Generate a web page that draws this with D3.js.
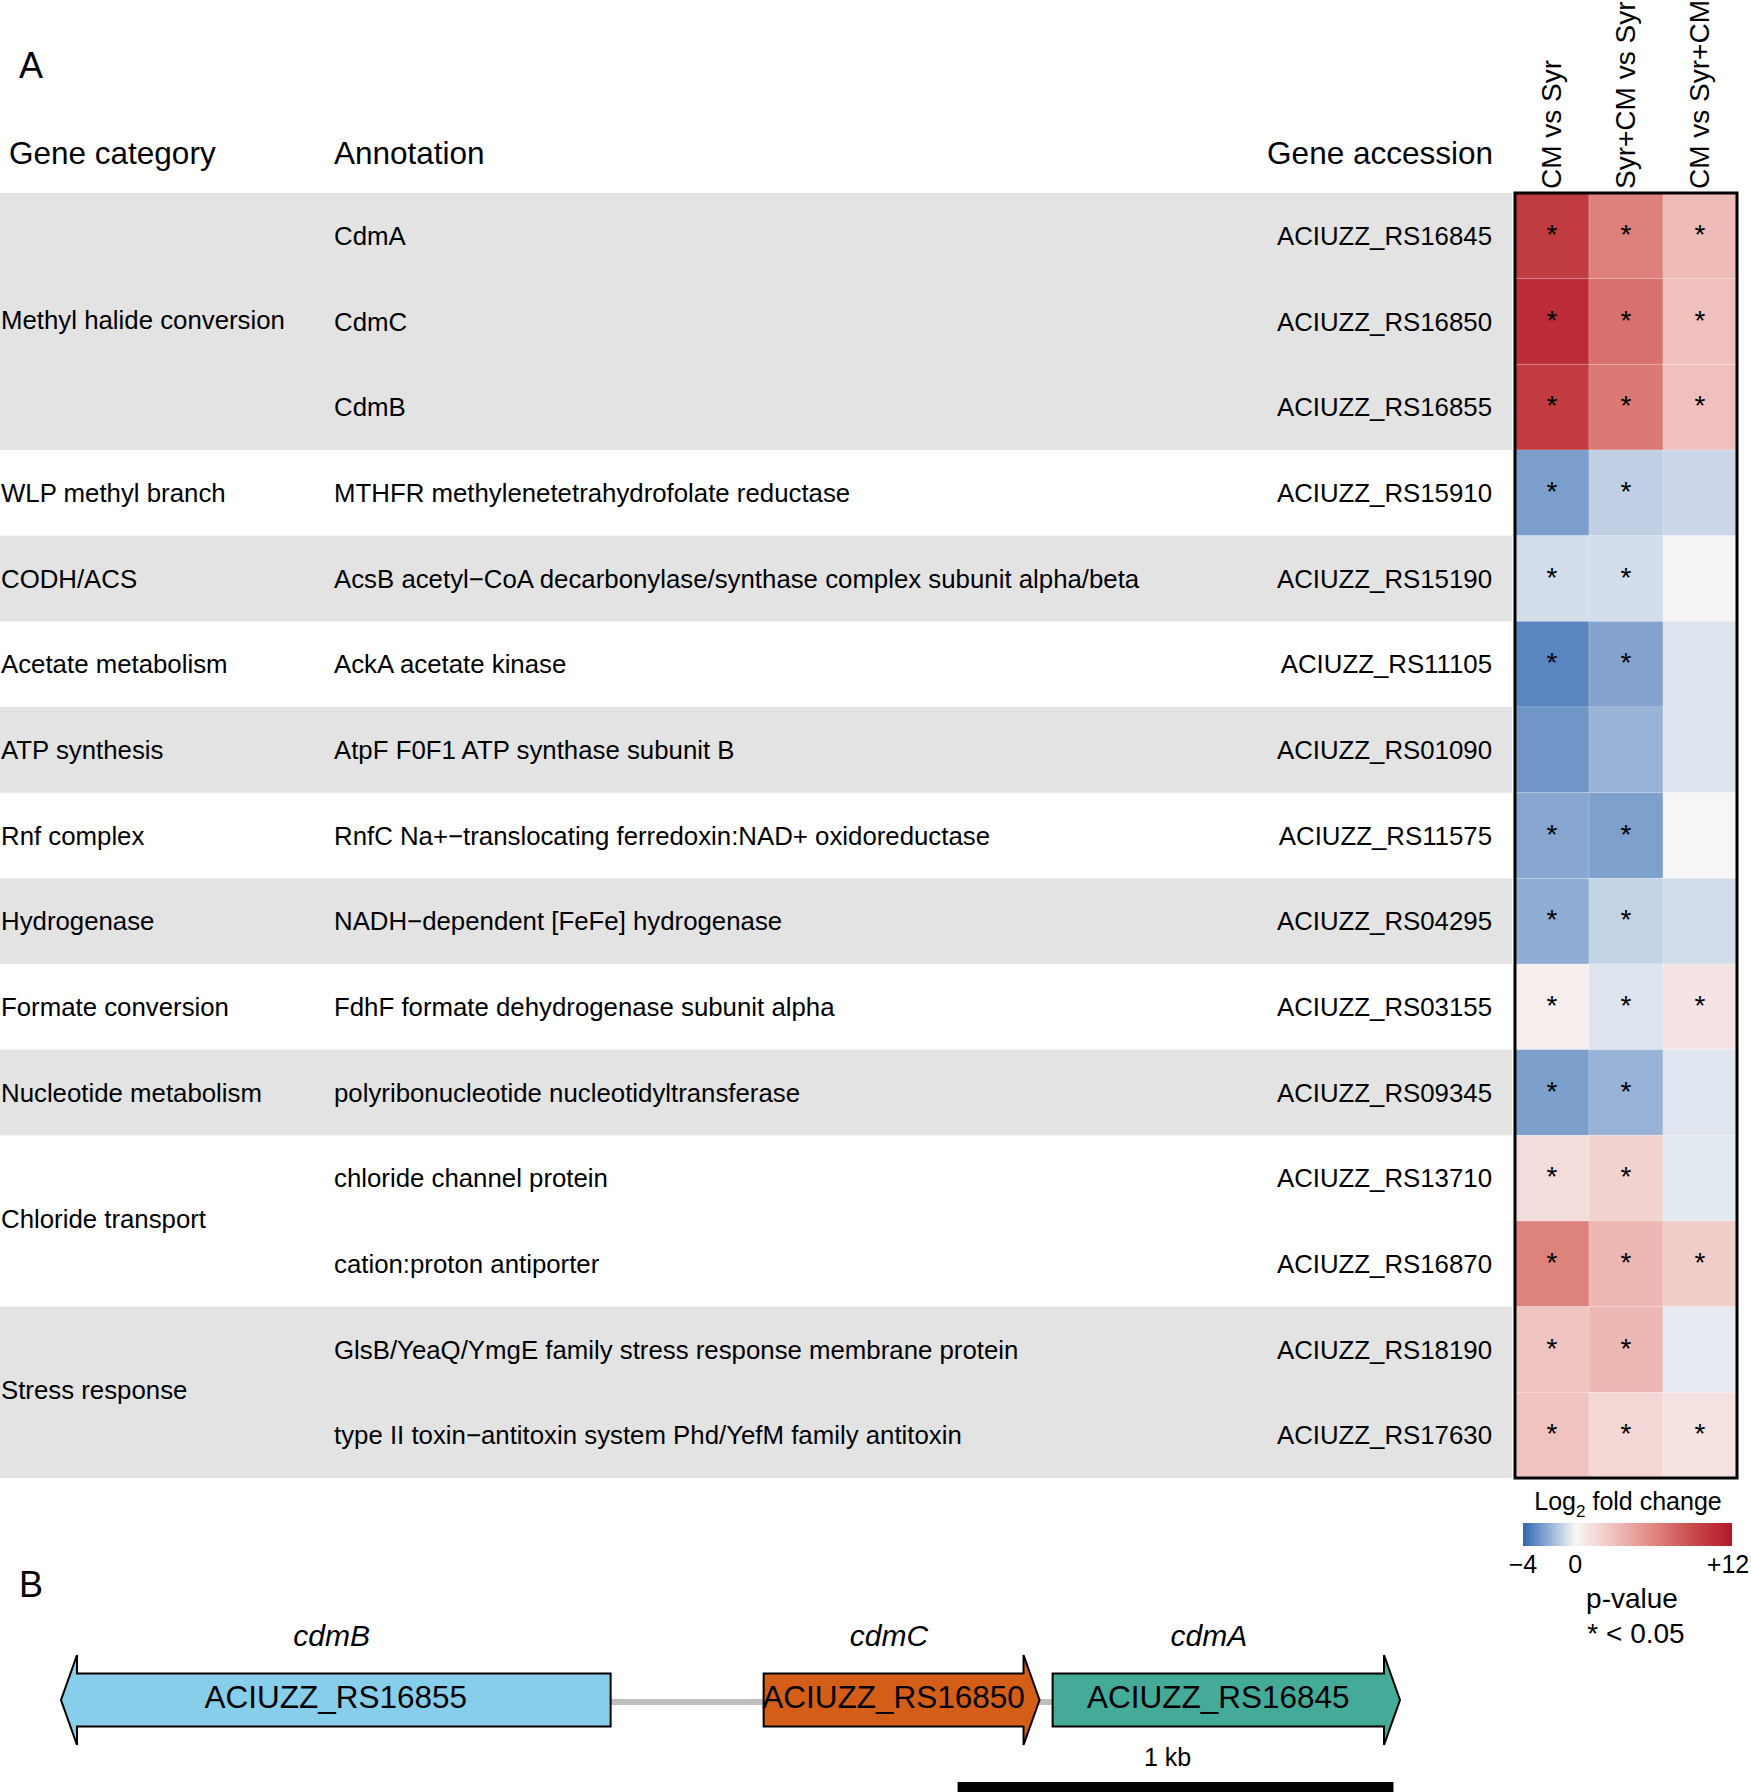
<!DOCTYPE html>
<html>
<head>
<meta charset="utf-8">
<script src="https://cdn.jsdelivr.net/npm/d3@7"></script>
<style>
  html, body { margin: 0; padding: 0; background: #fff; }
  svg text { font-family: "Liberation Sans", Arial, Helvetica, sans-serif; fill: #000; }
</style>
</head>
<body>
<svg id="chart" width="1751" height="1792"></svg>
<script>
// ---------------- DATA ----------------
const categories = ["Methyl halide conversion","WLP methyl branch","CODH/ACS","Acetate metabolism",
  "ATP synthesis","Rnf complex","Hydrogenase","Formate conversion","Nucleotide metabolism",
  "Chloride transport","Stress response"];
const categorySizes = [3,1,1,1,1,1,1,1,1,2,2];

const annotations = ["CdmA","CdmC","CdmB",
  "MTHFR methylenetetrahydrofolate reductase",
  "AcsB acetyl\u2212CoA decarbonylase/synthase complex subunit alpha/beta",
  "AckA acetate kinase",
  "AtpF F0F1 ATP synthase subunit B",
  "RnfC Na+\u2212translocating ferredoxin:NAD+ oxidoreductase",
  "NADH\u2212dependent [FeFe] hydrogenase",
  "FdhF formate dehydrogenase subunit alpha",
  "polyribonucleotide nucleotidyltransferase",
  "chloride channel protein",
  "cation:proton antiporter",
  "GlsB/YeaQ/YmgE family stress response membrane protein",
  "type II toxin\u2212antitoxin system Phd/YefM family antitoxin"];
const accessions = ["ACIUZZ_RS16845","ACIUZZ_RS16850","ACIUZZ_RS16855","ACIUZZ_RS15910",
  "ACIUZZ_RS15190","ACIUZZ_RS11105","ACIUZZ_RS01090","ACIUZZ_RS11575","ACIUZZ_RS04295",
  "ACIUZZ_RS03155","ACIUZZ_RS09345","ACIUZZ_RS13710","ACIUZZ_RS16870","ACIUZZ_RS18190",
  "ACIUZZ_RS17630"];

const comparisons = ["CM vs Syr","Syr+CM vs Syr","CM vs Syr+CM"];
const lfcCMvsSyr    = [9.9, 10.8, 9.95, -2.48, -0.72, -3.16, -2.7, -2.22, -2.06, 0.43, -2.44, 1.45, 6.2, 2.7, 2.8];
const lfcSyrCMvsSyr = [6.24, 7.05, 6.6, -1.1, -0.7, -2.32, -1.9, -2.42, -1.04, -0.52, -1.88, 1.94, 3.4, 3.4, 1.72];
const lfcCMvsSyrCM  = [3.2, 2.96, 2.96, -0.88, -0.05, -0.52, -0.52, 0.05, -0.72, 0.97, -0.46, -0.4, 2.26, -0.34, 1.08];
const sigCMvsSyr    = [1,1,1,1,1,1,0,1,1,1,1,1,1,1,1];
const sigSyrCMvsSyr = [1,1,1,1,1,1,0,1,1,1,1,1,1,1,1];
const sigCMvsSyrCM  = [1,1,1,0,0,0,0,0,0,1,0,0,1,0,1];

const legendTicks = [-4, 0, 12];
const legendTickLabels = ["\u22124", "0", "+12"];

// Gene cluster (bp, relative)
const geneNames  = ["cdmB","cdmC","cdmA"];
const geneIds    = ["ACIUZZ_RS16855","ACIUZZ_RS16850","ACIUZZ_RS16845"];
const geneStart  = [0, 1612, 2275];
const geneEnd    = [1261, 2245, 3072];
const geneStrand = [-1, 1, 1];
const regionExtent = [0, 3072];
const scaleBar = [2057, 3057]; // 1 kb
const scaleBarLabel = "1 kb";

// ---------------- DRAW ----------------
const svg = d3.select("#chart");
const FONT_ROW = 25.8, FONT_HEAD = 31.5;

const nRows = annotations.length;
const y = d3.scaleBand().domain(d3.range(nRows)).range([193, 1478]);
const x = d3.scaleBand().domain(comparisons).range([1515, 1737]);
const color = d3.scaleLinear()
  .domain([-4, 0, 3, 6, 9, 12])
  .range(["#2f67b1", "#f7f7f7", "#efbfbb", "#e08680", "#c84b4b", "#b2182b"]);

const lfc = [lfcCMvsSyr, lfcSyrCMvsSyr, lfcCMvsSyrCM];
const sig = [sigCMvsSyr, sigSyrCMvsSyr, sigCMvsSyrCM];

// panel label
svg.append("text").attr("x", 19).attr("y", 78).attr("font-size", 36).text("A");

// category bands
let start = 0;
const catRows = categories.map((c, i) => {
  const r = {name: c, start: start, size: categorySizes[i], idx: i};
  start += categorySizes[i];
  return r;
});
svg.append("g").selectAll("rect").data(catRows.filter(d => d.idx % 2 === 0)).join("rect")
  .attr("x", 0).attr("width", 1512)
  .attr("y", d => y(d.start)).attr("height", d => y.bandwidth() * d.size)
  .attr("fill", "#e3e3e3");

// headers
const hdr = svg.append("g").attr("font-size", FONT_HEAD);
hdr.append("text").attr("x", 9).attr("y", 164).text("Gene category");
hdr.append("text").attr("x", 334).attr("y", 164).text("Annotation");
hdr.append("text").attr("x", 1493).attr("y", 164).attr("text-anchor", "end").text("Gene accession");

// category labels
svg.append("g").selectAll("text").data(catRows).join("text")
  .attr("x", 1).attr("y", d => y(d.start) + y.bandwidth() * d.size / 2 - (d.size > 1 ? 2 : 0))
  .attr("dy", "0.35em").attr("font-size", FONT_ROW).text(d => d.name);

// annotations
svg.append("g").selectAll("text").data(annotations).join("text")
  .attr("x", 334).attr("y", (d, i) => y(i) + y.bandwidth() / 2)
  .attr("dy", "0.35em").attr("font-size", FONT_ROW).text(d => d);

// accessions
svg.append("g").selectAll("text").data(accessions).join("text")
  .attr("x", 1492).attr("y", (d, i) => y(i) + y.bandwidth() / 2)
  .attr("dy", "0.35em").attr("text-anchor", "end").attr("font-size", FONT_ROW).text(d => d);

// heatmap cells
const cells = [];
comparisons.forEach((c, j) => {
  for (let i = 0; i < nRows; i++) cells.push({col: c, row: i, v: lfc[j][i], s: sig[j][i]});
});
svg.append("g").selectAll("rect").data(cells).join("rect")
  .attr("x", d => x(d.col)).attr("y", d => y(d.row))
  .attr("width", x.bandwidth()).attr("height", y.bandwidth())
  .attr("fill", d => color(d.v))
  .attr("stroke", "rgba(255,255,255,0.18)").attr("stroke-width", 1);
svg.append("g").selectAll("text").data(cells.filter(d => d.s)).join("text")
  .attr("x", d => x(d.col) + x.bandwidth() / 2)
  .attr("y", d => y(d.row) + y.bandwidth() / 2 + 8)
  .attr("text-anchor", "middle").attr("font-size", 28).text("*");
svg.append("rect").attr("x", 1515).attr("y", 193).attr("width", 222).attr("height", 1285)
  .attr("fill", "none").attr("stroke", "#000").attr("stroke-width", 3);

// column labels (rotated)
svg.append("g").selectAll("text").data(comparisons).join("text")
  .attr("transform", d => `translate(${x(d) + x.bandwidth() / 2 - 1},189) rotate(-90)`)
  .attr("dy", "0.35em").attr("font-size", 28).text(d => d);

// legend
const lt = svg.append("text").attr("x", 1628).attr("y", 1510).attr("text-anchor", "middle").attr("font-size", 25);
lt.append("tspan").text("Log");
lt.append("tspan").attr("font-size", 17).attr("dy", 7).text("2");
lt.append("tspan").attr("dy", -7).text(" fold change");

const lx = d3.scaleLinear().domain([-4, 12]).range([1523, 1732]);
const defs = svg.append("defs");
const grad = defs.append("linearGradient").attr("id", "lfcgrad").attr("x1", "0%").attr("x2", "100%");
d3.range(0, 1.0001, 0.025).forEach(t => {
  grad.append("stop").attr("offset", (t * 100) + "%").attr("stop-color", color(-4 + 16 * t));
});
svg.append("rect").attr("x", lx(-4)).attr("y", 1523).attr("width", lx(12) - lx(-4)).attr("height", 23)
  .attr("fill", "url(#lfcgrad)");
svg.append("g").selectAll("text").data(legendTicks).join("text")
  .attr("x", (d, i) => lx(d) - (i === 2 ? 4 : 0)).attr("y", 1573).attr("text-anchor", "middle").attr("font-size", 25)
  .text((d, i) => legendTickLabels[i]);
svg.append("text").attr("x", 1632).attr("y", 1608).attr("text-anchor", "middle").attr("font-size", 28).text("p-value");
svg.append("text").attr("x", 1636).attr("y", 1643).attr("text-anchor", "middle").attr("font-size", 28).text("* < 0.05");

// ---------------- PANEL B ----------------
svg.append("text").attr("x", 19).attr("y", 1597).attr("font-size", 36).text("B");

const gx = d3.scaleLinear().domain(regionExtent).range([61, 1400]);
const labelX = d3.scaleLinear().domain(regionExtent).range([61, 1380]);
const cy = 1700, bodyH = 53, headH = 90, headL = 16;
const geneColors = {cdmB: "#87ceeb", cdmC: "#d45e17", cdmA: "#45ab99"};

svg.append("line").attr("x1", gx(regionExtent[0])).attr("x2", gx(regionExtent[1]))
  .attr("y1", cy + 2).attr("y2", cy + 2).attr("stroke", "#bfbfbf").attr("stroke-width", 6);

const genes = geneNames.map((n, i) => ({name: n, id: geneIds[i], s: geneStart[i], e: geneEnd[i], strand: geneStrand[i]}));
function arrowPath(d) {
  const a = gx(d.s), b = gx(d.e);
  const bt = cy - bodyH / 2, bb = cy + bodyH / 2, ht = cy - headH / 2, hb = cy + headH / 2;
  if (d.strand > 0) {
    const h = b - headL;
    return `M${a},${bt}L${h},${bt}L${h},${ht}L${b},${cy}L${h},${hb}L${h},${bb}L${a},${bb}Z`;
  } else {
    const h = a + headL;
    return `M${b},${bt}L${h},${bt}L${h},${ht}L${a},${cy}L${h},${hb}L${h},${bb}L${b},${bb}Z`;
  }
}
svg.append("g").selectAll("path").data(genes).join("path")
  .attr("d", arrowPath).attr("fill", d => geneColors[d.name])
  .attr("stroke", "#000").attr("stroke-width", 2).attr("stroke-linejoin", "miter");
svg.append("g").selectAll("text").data(genes).join("text")
  .attr("x", d => (gx(d.s) + gx(d.e)) / 2 - (d.strand > 0 ? headL / 2 : 0)).attr("y", cy + 8)
  .attr("text-anchor", "middle").attr("font-size", 31.5).text(d => d.id);
svg.append("g").selectAll("text").data(genes).join("text")
  .attr("x", d => labelX((d.s + d.e) / 2)).attr("y", 1646)
  .attr("text-anchor", "middle").attr("font-size", 30).attr("font-style", "italic").text(d => d.name);

// scale bar
svg.append("rect").attr("x", gx(scaleBar[0])).attr("y", 1782)
  .attr("width", gx(scaleBar[1]) - gx(scaleBar[0])).attr("height", 14).attr("fill", "#000");
svg.append("text").attr("x", (gx(scaleBar[0]) + gx(scaleBar[1])) / 2 - 8).attr("y", 1766)
  .attr("text-anchor", "middle").attr("font-size", 25).text(scaleBarLabel);
</script>
</body>
</html>
